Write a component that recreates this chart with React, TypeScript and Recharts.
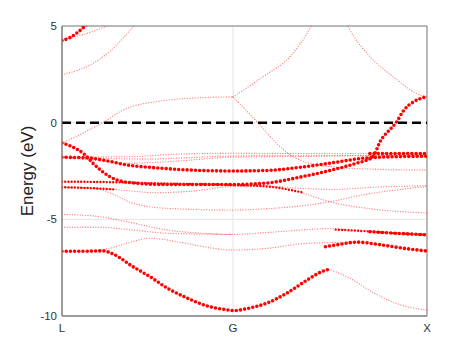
import React from 'react';
import {
  LineChart,
  Line,
  XAxis,
  YAxis,
  CartesianGrid,
  ReferenceLine,
  ReferenceArea,
} from 'recharts';

type Pt = [number, number];

// k-path: L -> G -> X
const K_TICKS = [0, 1, 2.134];
const K_LABELS = ['L', 'G', 'X'];
const E_TICKS = [-10, -5, 0, 5];

// conduction bands (thin)
const condA: Pt[] = [[0, 4.33], [0.12, 4.55], [0.263, 5.0], [0.3, 5.12]];
const condB: Pt[] = [[0, 2.48], [0.181, 3.07], [0.3, 3.85], [0.41, 4.9], [0.44, 5.2]];
const condC: Pt[] = [[0, -1.05], [0.105, -0.62], [0.175, -0.29], [0.24, 0], [0.339, 0.57], [0.573, 1.12], [0.866, 1.31], [1, 1.33]];
const condD: Pt[] = [[1, 1.33], [1.175, 2.38], [1.333, 3.41], [1.45, 4.88], [1.47, 5.2]];
const condE: Pt[] = [[1.66, 5.2], [1.673, 4.97], [1.801, 3.41], [1.936, 2.38], [2.094, 1.43], [2.134, 1.33]];
const condF: Pt[] = [[1, 1.33], [1.146, 0], [1.275, -1.24], [1.36, -1.8], [1.45, -2.1], [1.6, -2.3], [1.8, -2.4], [2.134, -2.45]];

// valence bands (thin)
const valA: Pt[] = [[0, -1.79], [0.4, -1.75], [0.7, -1.62], [1, -1.58], [1.5, -1.6], [1.8, -1.6], [2.134, -1.6]];
const valB: Pt[] = [[0, -1.79], [0.5, -1.88], [1, -1.72], [1.5, -1.7], [2.134, -1.72]];
const valC: Pt[] = [[0, -1.79], [0.2, -1.95], [0.4, -2.1], [0.65, -2.0], [1, -1.78], [1.4, -1.75], [2.134, -1.65]];
const valD: Pt[] = [[0, -3.34], [0.3, -3.45], [0.55, -3.62], [0.75, -3.55], [1, -3.3], [1.2, -3.28], [1.4, -3.4], [1.6, -3.45], [1.8, -3.35], [2.134, -3.26]];
const valE: Pt[] = [[0, -3.34], [0.18, -3.38], [0.3, -3.7], [0.415, -4.17], [0.614, -4.43], [1, -4.52], [1.2, -4.45], [1.4, -4.3], [1.567, -4.09], [1.75, -3.75], [2.134, -3.3]];
const valF: Pt[] = [[1.4, -3.6], [1.567, -4.09], [1.8, -4.45], [2.134, -4.67]];
const valG: Pt[] = [[0, -4.74], [0.22, -4.86], [0.415, -5.19], [0.614, -5.55], [0.807, -5.71], [1, -5.78], [1.2, -5.68], [1.4, -5.55], [1.567, -5.48], [1.65, -5.52]];
const valH: Pt[] = [[0, -5.41], [0.222, -5.41], [0.415, -5.55], [0.614, -5.72], [1, -5.78]];
const valI: Pt[] = [[0.2, -6.62], [0.3, -6.45], [0.4, -6.18], [0.515, -5.98], [0.7, -6.2], [0.85, -6.45], [1, -6.59], [1.2, -6.5], [1.4, -6.26], [1.57, -6.2], [1.725, -6.18]];
const valJ: Pt[] = [[1.561, -7.58], [1.667, -7.97], [1.825, -8.81], [1.982, -9.43], [2.134, -9.7]];

// medium weight
const midA: Pt[] = [[0, -3.05], [0.3, -3.08], [0.6, -3.15], [1, -3.22], [1.2, -3.3], [1.4, -3.6]];
const midB: Pt[] = [[0, -3.34], [0.15, -3.38], [0.3, -3.45]];
const midC: Pt[] = [[1.6, -5.53], [1.75, -5.6], [1.95, -5.72], [2.134, -5.8]];

// heavy weight
const fatA: Pt[] = [[0, 4.25], [0.047, 4.4], [0.088, 4.65], [0.135, 5.0], [0.17, 5.3]];
const fatB: Pt[] = [[0, -1.05], [0.047, -1.2], [0.135, -1.67], [0.181, -2.1], [0.281, -2.8], [0.38, -3.08], [0.6, -3.2], [1, -3.2], [1.2, -3.12], [1.4, -2.8], [1.6, -2.4], [1.72, -2.1], [1.813, -1.8], [1.865, -0.9], [1.924, -0.29], [1.953, 0], [2.0, 0.66], [2.058, 1.09], [2.134, 1.35]];
const fatC: Pt[] = [[0, -1.79], [0.15, -1.82], [0.25, -1.95], [0.38, -2.19], [0.556, -2.34], [0.8, -2.47], [1, -2.5], [1.2, -2.47], [1.4, -2.3], [1.6, -2.05], [1.75, -1.85], [1.95, -1.76], [2.134, -1.74]];
const fatD: Pt[] = [[1.8, -1.6], [1.95, -1.6], [2.134, -1.6]];
const fatE: Pt[] = [[1.8, -5.64], [1.95, -5.72], [2.134, -5.8]];
const fatF: Pt[] = [[1.54, -6.42], [1.62, -6.3], [1.725, -6.18], [1.85, -6.3], [2.0, -6.5], [2.134, -6.64]];
const fatG: Pt[] = [[0, -6.65], [0.135, -6.65], [0.24, -6.63], [0.3, -6.8], [0.415, -7.45], [0.515, -7.97], [0.614, -8.55], [0.731, -9.07], [0.848, -9.48], [0.965, -9.68], [1, -9.72], [1.1, -9.58], [1.199, -9.33], [1.316, -8.81], [1.433, -8.14], [1.515, -7.72], [1.561, -7.58]];

const THIN = [condA, condB, condC, condD, condE, condF, valA, valB, valC, valD, valE, valF, valG, valH, valI, valJ];
const MID = [midA, midB, midC];
const FAT = [fatA, fatB, fatC, fatD, fatE, fatF, fatG];

const FONT = '"Liberation Sans", Arial, sans-serif';

const rows = (pts: Pt[]) => pts.map(([k, e]) => ({ k, e }));

export default function App() {
  return (
    <div style={{ position: 'absolute', left: 0, top: 0, width: 474, height: 355, background: '#fff', fontFamily: FONT }}>
      <LineChart width={474} height={355} margin={{ top: 26, right: 47, bottom: 9, left: 0 }}>
        <CartesianGrid stroke="#e4e4e4" />
        <XAxis
          type="number"
          dataKey="k"
          domain={[0, 2.134]}
          ticks={K_TICKS}
          allowDataOverflow
          tickFormatter={(v: number) => K_LABELS[K_TICKS.indexOf(v)] ?? ''}
          tickLine={false}
          tickSize={0}
          tickMargin={8}
          height={30}
          stroke="#808080"
          tick={{ fill: '#333', fontSize: 11.5, fontFamily: FONT }}
        />
        <YAxis
          type="number"
          domain={[-10, 5]}
          ticks={E_TICKS}
          allowDataOverflow
          tickLine={false}
          tickSize={0}
          tickMargin={5}
          width={62}
          stroke="#808080"
          tick={{ fill: '#333', fontSize: 11.5, fontFamily: FONT }}
          label={{ value: 'Energy (eV)', angle: -90, position: 'center', dx: -4, style: { fontSize: 17, fill: '#222', fontFamily: FONT } }}
        />
        {THIN.map((b, i) => (
          <Line
            key={`t${i}`}
            data={rows(b)}
            dataKey="e"
            type="monotone"
            stroke="#ff2020"
            strokeOpacity={0.6}
            strokeWidth={1.3}
            strokeLinecap="round"
            strokeDasharray="0 2.6"
            dot={false}
            activeDot={false}
            isAnimationActive={false}
          />
        ))}
        {MID.map((b, i) => (
          <Line
            key={`m${i}`}
            data={rows(b)}
            dataKey="e"
            type="monotone"
            stroke="#ff0000"
            strokeWidth={2.4}
            strokeLinecap="round"
            strokeDasharray="0 3.2"
            dot={false}
            activeDot={false}
            isAnimationActive={false}
          />
        ))}
        {FAT.map((b, i) => (
          <Line
            key={`f${i}`}
            data={rows(b)}
            dataKey="e"
            type="monotone"
            stroke="#ff0000"
            strokeWidth={3.6}
            strokeLinecap="round"
            strokeDasharray="0 4.2"
            dot={false}
            activeDot={false}
            isAnimationActive={false}
          />
        ))}
        <ReferenceLine y={0} stroke="#000" strokeWidth={2.5} strokeDasharray="9 5" />
        <ReferenceArea x1={0} x2={2.134} y1={-10} y2={5} fill="none" stroke="#808080" strokeWidth={1} ifOverflow="visible" />
      </LineChart>
    </div>
  );
}
